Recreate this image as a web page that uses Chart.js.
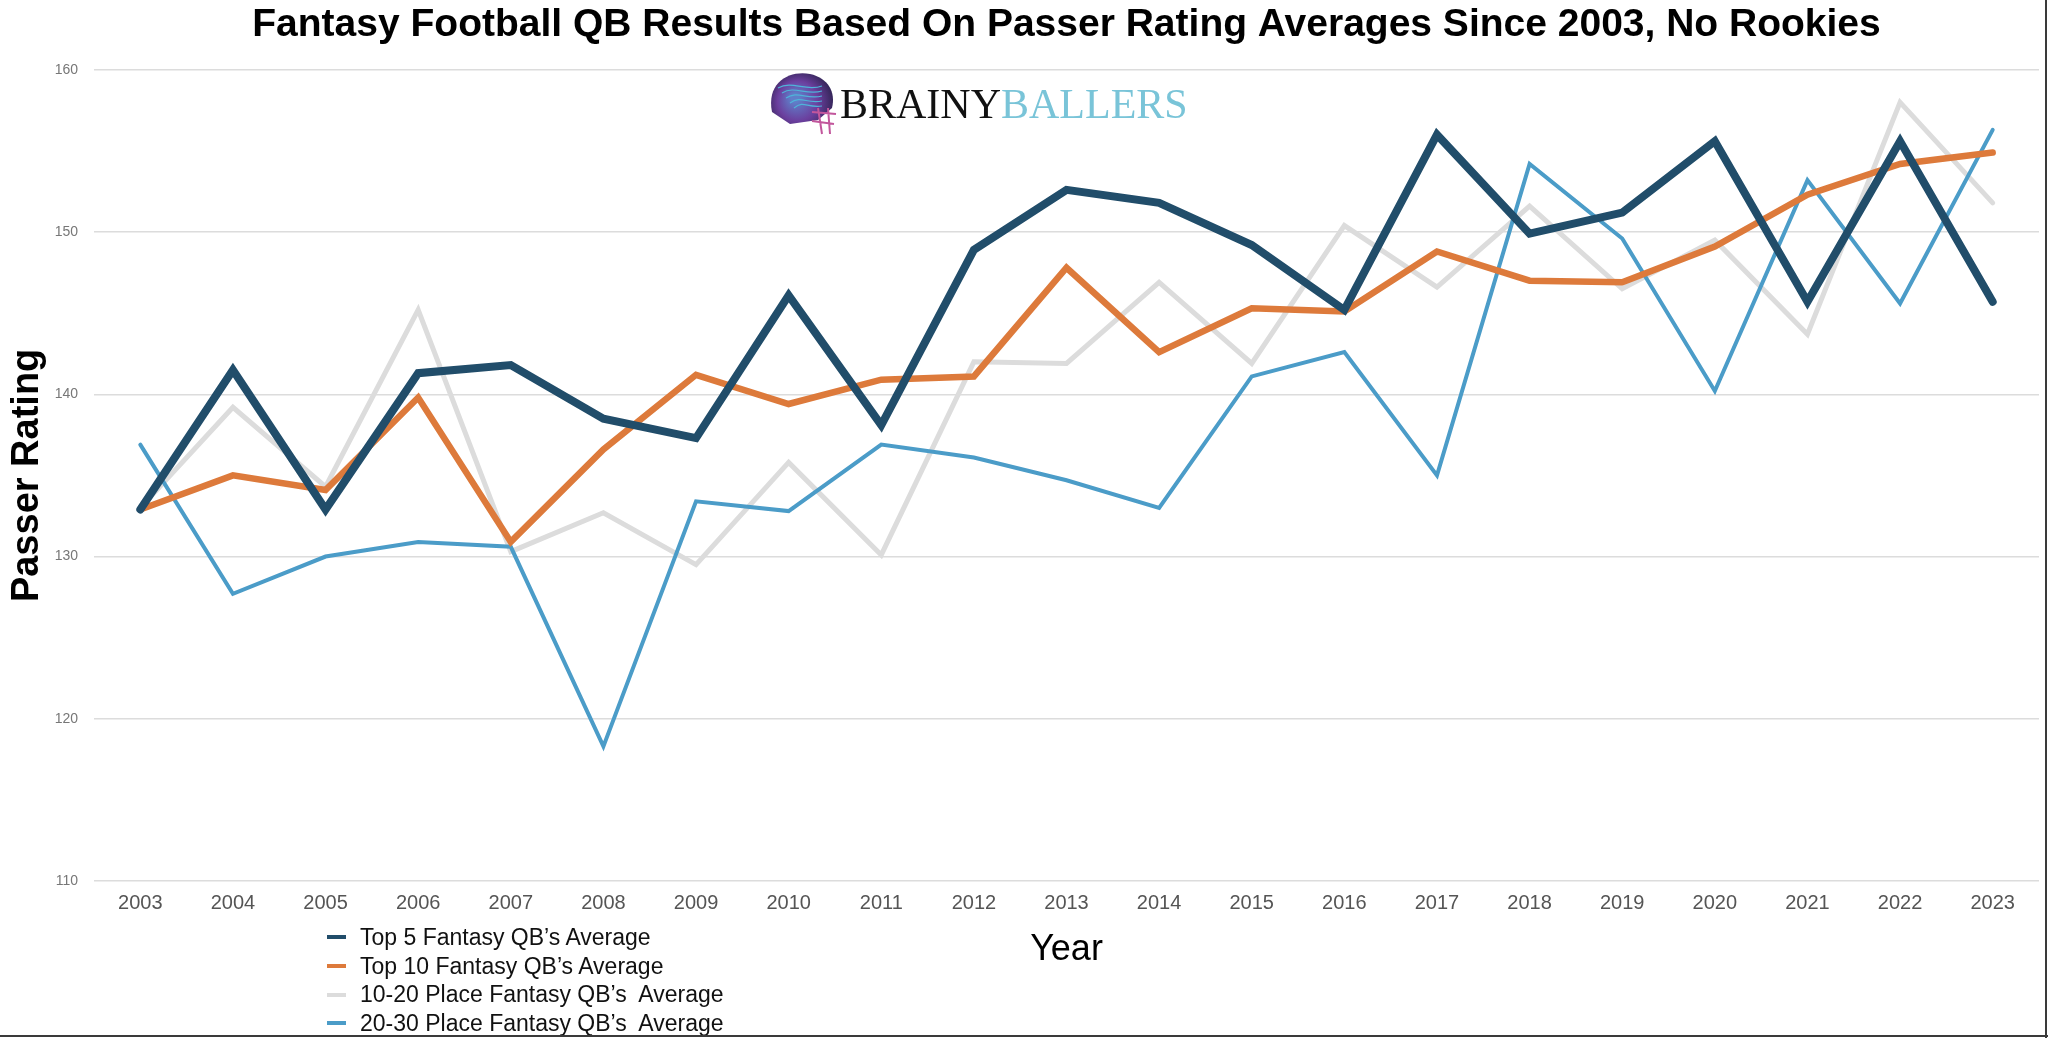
<!DOCTYPE html>
<html>
<head>
<meta charset="utf-8">
<script src="https://cdn.jsdelivr.net/npm/chart.js@4.4.1/dist/chart.umd.min.js"></script>
<style>
  html, body { margin: 0; padding: 0; background: #fff; }
  #wrap { position: relative; width: 2048px; height: 1038px; overflow: hidden; }
  #chart { display: block; }
  #legend { position: absolute; left: 327px; top: 923px; font-family: 'Liberation Sans', Arial, sans-serif; font-size: 23px; color: #111; }
  #legend .item { height: 28.7px; display: flex; align-items: center; white-space: pre; }
  #legend .swatch { width: 19px; height: 4px; margin-right: 14px; }
  .edge { position: absolute; background: #3a3a3a; }
</style>
</head>
<body>
<div id="wrap">
  <canvas id="chart" width="2048" height="1038"></canvas>
  <div id="legend"></div>
  <div class="edge" style="left:2045px;top:0;width:2px;height:1038px"></div>
  <div class="edge" style="left:0;top:1035px;width:2048px;height:2px"></div>
</div>
<script>
const years = ['2003','2004','2005','2006','2007','2008','2009','2010','2011','2012','2013',
  '2014','2015','2016','2017','2018','2019','2020','2021','2022','2023'];

const top5 = [132.9, 141.5, 132.9, 141.3, 141.8, 138.5, 137.3, 146.1, 138.1, 148.9, 152.6,
  151.8, 149.2, 145.2, 156.0, 149.9, 151.2, 155.6, 145.7, 155.6, 145.7];
const top10 = [132.9, 135.0, 134.1, 139.8, 130.9, 136.6, 141.2, 139.4, 140.9, 141.1, 147.8,
  142.6, 145.3, 145.1, 148.8, 147.0, 146.9, 149.1, 152.3, 154.2, 154.9];
const place10to20 = [133.0, 139.2, 134.3, 145.2, 130.3, 132.7, 129.5, 135.8, 130.1, 142.0, 141.9,
  146.9, 141.9, 150.4, 146.6, 151.6, 146.5, 149.5, 143.7, 158.0, 151.8];
const place20to30 = [136.9, 127.7, 130.0, 130.9, 130.6, 118.3, 133.4, 132.8, 136.9, 136.1, 134.7,
  133.0, 141.1, 142.6, 135.0, 154.2, 149.6, 140.2, 153.2, 145.6, 156.3];

const seriesLabels = ['Top 5 Fantasy QB\u2019s Average', 'Top 10 Fantasy QB\u2019s Average',
  '10-20 Place Fantasy QB\u2019s  Average', '20-30 Place Fantasy QB\u2019s  Average'];
const seriesColors = ['#214d6a', '#dd7a3b', '#dcdcdc', '#4b9cc8'];
const seriesWidths = [8, 6.5, 5, 4];
const seriesOrder = [0, 1, 3, 2];

const yTicks = [110, 120, 130, 140, 150, 160];

const sans = "'Liberation Sans', Arial, sans-serif";

// brainy ballers logo, drawn on top of the plot
const logoPlugin = {
  id: 'logo',
  afterDraw(chart) {
    const ctx = chart.ctx;
    ctx.save();
    // helmet
    const g = ctx.createRadialGradient(795, 98, 4, 800, 104, 36);
    g.addColorStop(0, '#5f7fc9');
    g.addColorStop(0.5, '#6b3f9e');
    g.addColorStop(1, '#2d2250');
    ctx.fillStyle = g;
    ctx.beginPath();
    ctx.moveTo(772, 112);
    ctx.bezierCurveTo(766, 82, 790, 70, 810, 74);
    ctx.bezierCurveTo(828, 78, 836, 92, 832, 108);
    ctx.lineTo(818, 120);
    ctx.lineTo(790, 124);
    ctx.closePath();
    ctx.fill();
    ctx.strokeStyle = '#4fb3d9';
    ctx.lineWidth = 1.2;
    for (let i = 0; i < 5; i++) {
      ctx.beginPath();
      ctx.moveTo(778 + i * 4, 88 + i * 5);
      ctx.bezierCurveTo(792 + i * 3, 80 + i * 5, 806, 92 + i * 4, 822, 86 + i * 5);
      ctx.stroke();
    }
    ctx.strokeStyle = '#c2569c';
    ctx.lineWidth = 2;
    ctx.beginPath();
    ctx.moveTo(812, 112); ctx.lineTo(836, 114);
    ctx.moveTo(812, 121); ctx.lineTo(834, 124);
    ctx.moveTo(818, 108); ctx.lineTo(822, 134);
    ctx.moveTo(828, 108); ctx.lineTo(830, 134);
    ctx.stroke();
    // wordmark
    ctx.font = "42px 'Liberation Serif', 'DejaVu Serif', serif";
    ctx.textBaseline = 'alphabetic';
    ctx.fillStyle = '#111111';
    ctx.fillText('BRAINY', 840, 118);
    const w = ctx.measureText('BRAINY').width;
    ctx.fillStyle = '#79c4d8';
    ctx.fillText('BALLERS', 840 + w, 118);
    ctx.restore();
  }
};

const datasets = [top5, top10, place10to20, place20to30].map((values, i) => ({
  label: seriesLabels[i],
  data: values,
  borderColor: seriesColors[i],
  backgroundColor: seriesColors[i],
  borderWidth: seriesWidths[i],
  order: seriesOrder[i],
  pointRadius: 0,
  tension: 0,
  borderCapStyle: 'round',
  borderJoinStyle: 'miter'
}));

const chart = new Chart(document.getElementById('chart'), {
  type: 'line',
  data: { labels: years, datasets: datasets },
  options: {
    responsive: false,
    animation: false,
    layout: { padding: { top: 0, left: 0, right: 9, bottom: 0 } },
    plugins: {
      legend: { display: false },
      tooltip: { enabled: false },
      title: {
        display: true,
        fullSize: false,
        text: 'Fantasy Football QB Results Based On Passer Rating Averages Since 2003, No Rookies',
        color: '#000',
        font: { family: sans, size: 39, weight: 'bold' },
        padding: { top: 2, bottom: 21 }
      }
    },
    scales: {
      x: {
        offset: true,
        grid: { display: false },
        border: { display: false },
        ticks: { color: '#555', font: { family: sans, size: 20 }, padding: 2, maxRotation: 0 },
        title: {
          display: true,
          text: 'Year',
          color: '#000',
          font: { family: sans, size: 36 },
          padding: { top: 0, bottom: 66 }
        },
        afterFit(scale) { scale.height = 157; }
      },
      y: {
        min: 110,
        max: 160,
        afterBuildTicks(scale) { scale.ticks = yTicks.map(v => ({ value: v })); },
        grid: { color: '#dcdcdc', lineWidth: 1.5, drawTicks: false },
        border: { display: false },
        ticks: { color: '#777', font: { family: sans, size: 14 }, padding: 16 },
        title: {
          display: true,
          text: 'Passer Rating',
          color: '#000',
          font: { family: sans, size: 38, weight: 'bold' },
          padding: { top: 5, bottom: 0 }
        },
        afterFit(scale) { scale.width = 94; }
      }
    }
  },
  plugins: [logoPlugin]
});

// legend below the plot, one entry per row
const legendBox = document.getElementById('legend');
chart.data.datasets.forEach(ds => {
  const row = document.createElement('div');
  row.className = 'item';
  const sw = document.createElement('span');
  sw.className = 'swatch';
  sw.style.background = ds.borderColor;
  const txt = document.createElement('span');
  txt.textContent = ds.label;
  row.appendChild(sw);
  row.appendChild(txt);
  legendBox.appendChild(row);
});
</script>
</body>
</html>
